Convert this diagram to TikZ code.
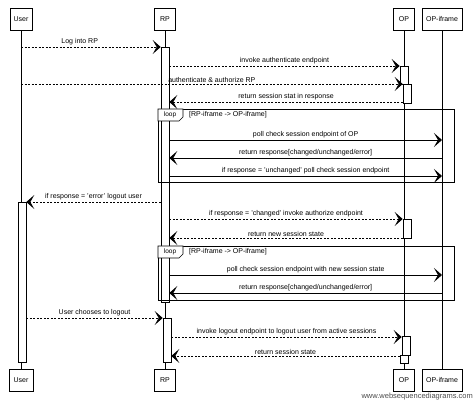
\documentclass[tikz,border=0pt]{standalone}
\usepackage{fontspec}
\setmainfont{Liberation Sans}
\usetikzlibrary{arrows.meta}

\tikzset{
  actor/.style={draw, line width=0.6pt, minimum height=22pt, inner sep=1pt, font=\fontsize{7}{8}\selectfont},
  act/.style={draw, line width=0.6pt, fill=white, minimum width=8pt, inner sep=0pt},
  msg/.style={line width=0.6pt, -{Stealth[length=8pt,width=14pt,inset=4pt,line width=0.8pt]}},
  reply/.style={msg, dash pattern=on 2pt off 1.5pt},
  lbl/.style={above, inner sep=1.5pt, font=\fontsize{7}{8}\selectfont},
  frame/.style={line width=0.7pt},
}

\begin{document}
\begin{tikzpicture}[x=1pt,y=-1pt]
  \useasboundingbox (0,0) rectangle (474,403);
  \node[actor, minimum width=22pt] (user) at (21,19) {User};
  \node[actor, minimum width=21pt] (rp) at (165,19) {RP};
  \node[actor, minimum width=21pt] (op) at (404,19) {OP};
  \node[actor, minimum width=40pt] (ifr) at (442,19) {OP-iframe};
  \node[actor, minimum width=24pt] (userB) at (21,380) {User};
  \node[actor, minimum width=21pt] (rpB) at (165,380) {RP};
  \node[actor, minimum width=21pt] (opB) at (404,380) {OP};
  \node[actor, minimum width=40pt] (ifrB) at (442,380) {OP-iframe};
  \draw[line width=0.6pt] (user) -- (userB);
  \draw[line width=0.6pt] (rp) -- (rpB);
  \draw[line width=0.6pt] (op) -- (opB);
  \draw[line width=0.6pt] (ifr) -- (ifrB);

  \node[act, minimum height=255pt] (rpA1) at (165,174.5) {};
  \node[act, minimum height=44pt] (rpA2) at (167,340) {};
  \node[act, minimum height=160pt] (userA) at (22,282) {};
  \node[act, minimum height=18pt] (opA1) at (404,75) {};
  \node[act, minimum height=19pt] (opA2) at (407,93.5) {};
  \node[act, minimum height=19pt] (opA3) at (407,228.5) {};
  \node[act, minimum height=19pt] (opA4) at (406,345.5) {};
  \node[act, minimum height=8pt] (opA5) at (404,359) {};

  \draw[reply] (user |- 0,47) -- node[lbl, pos=0.42] {Log into RP} (rpA1.west |- 0,47);
  \draw[reply] (rpA1.east |- 0,66) -- node[lbl] {invoke authenticate endpoint} (opA1.west |- 0,66);
  \draw[reply] (user |- 0,84) -- node[lbl] {authenticate \& authorize RP} (opA2.west |- 0,84);
  \draw[reply] (opA2.west |- 0,102) -- node[lbl] {return session stat in response} (rpA1.east |- 0,102);

  \draw[frame] (158,109) rectangle (454,182);
  \draw[frame, fill=white] (158,109) -- (183,109) -- (183,117) -- (179,121) -- (158,121) -- cycle;
  \node[font=\fontsize{6.5}{8}\selectfont, inner sep=0pt] (loopA) at (170,115) {loop};
  \node[font=\fontsize{7}{8}\selectfont, anchor=west, inner sep=0pt] (condA) at (189,115) {[RP-iframe -> OP-iframe]};
  \draw[msg] (rpA1.east |- 0,140) -- node[lbl] {poll check session endpoint of OP} (ifr |- 0,140);
  \draw[msg] (ifr |- 0,158) -- node[lbl] {return response[changed/unchanged/error]} (rpA1.east |- 0,158);
  \draw[msg] (rpA1.east |- 0,176) -- node[lbl] {if response = 'unchanged' poll check session endpoint} (ifr |- 0,176);

  \draw[reply] (rpA1.west |- 0,202) -- node[lbl] {if response = 'error' logout user} (userA.east |- 0,202);
  \draw[reply] (rpA1.east |- 0,219) -- node[lbl] {if response = 'changed' invoke authorize endpoint} (opA3.west |- 0,219);
  \draw[reply] (opA3.west |- 0,238) -- node[lbl] {return new session state} (rpA1.east |- 0,238);

  \draw[frame] (158,246) rectangle (454,300);
  \draw[frame, fill=white] (158,246) -- (183,246) -- (183,254) -- (179,258) -- (158,258) -- cycle;
  \node[font=\fontsize{6.5}{8}\selectfont, inner sep=0pt] (loopB) at (170,252) {loop};
  \node[font=\fontsize{7}{8}\selectfont, anchor=west, inner sep=0pt] (condB) at (189,252) {[RP-iframe -> OP-iframe]};
  \draw[msg] (rpA1.east |- 0,275) -- node[lbl] {poll check session endpoint with new session state} (ifr |- 0,275);
  \draw[msg] (ifr |- 0,293) -- node[lbl] {return response[changed/unchanged/error]} (rpA1.east |- 0,293);

  \draw[reply] (userA.east |- 0,318) -- node[lbl] {User chooses to logout} (rpA2.west |- 0,318);
  \draw[reply] (rpA2.east |- 0,337) -- node[lbl] {invoke logout endpoint to logout user from active sessions} (opA4.west |- 0,337);
  \draw[reply] (opA5.west |- 0,356) -- node[lbl] {return session state} (rpA2.east |- 0,356);

  \node[anchor=east, inner sep=0pt, text=black!70, font=\fontsize{7.5}{8}\selectfont] (wsd) at (473,397) {www.websequencediagrams.com};
\end{tikzpicture}
\end{document}
